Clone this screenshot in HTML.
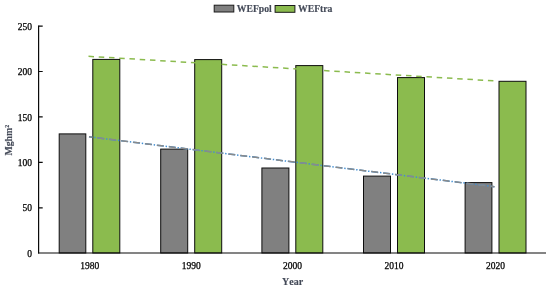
<!DOCTYPE html>
<html>
<head>
<meta charset="utf-8">
<title>WEF chart</title>
<style>
html,body{margin:0;padding:0;background:#fff;}
body{width:550px;height:290px;overflow:hidden;}
svg{display:block;}
text{font-family:"Liberation Serif","Times New Roman",serif;font-kerning:none;}
.t{font-size:9.5px;fill:#000;stroke:#000;stroke-width:0.25px;}
.b{font-size:9.7px;font-weight:bold;fill:#444a58;stroke:#444a58;stroke-width:0.15px;}
</style>
</head>
<body>
<svg width="550" height="290" viewBox="0 0 550 290">
<rect x="0" y="0" width="550" height="290" fill="#ffffff"/>

<!-- legend -->
<rect x="214.2" y="5.2" width="19.6" height="6.8" fill="#808080" stroke="#1a1a1a" stroke-width="1"/>
<text class="b" x="236.8" y="11.9">WEFpol</text>
<rect x="275.1" y="5.5" width="19.8" height="6.8" fill="#8bbb4e" stroke="#1a1a1a" stroke-width="1"/>
<text class="b" x="298" y="11.9">WEFtra</text>

<!-- bars -->
<g stroke="#0d0d0d" stroke-width="1">
<g fill="#808080">
<rect x="59.2" y="133.9" width="26.6" height="119.1"/>
<rect x="160.7" y="149.1" width="27" height="103.9"/>
<rect x="261.9" y="168" width="27" height="85"/>
<rect x="363.5" y="176.1" width="27" height="76.9"/>
<rect x="465.1" y="182.6" width="26.8" height="70.4"/>
</g>
<g fill="#8bbb4e">
<rect x="92.8" y="59.4" width="27" height="193.6"/>
<rect x="194.7" y="59.6" width="27" height="193.4"/>
<rect x="295.8" y="65.6" width="27" height="187.4"/>
<rect x="397.5" y="77.6" width="27" height="175.4"/>
<rect x="499" y="81.3" width="27" height="171.7"/>
</g>
</g>

<!-- green trend line -->
<line x1="88.5" y1="56.3" x2="497" y2="81.05" stroke="#8bbb4e" stroke-width="1.5" stroke-dasharray="5.5 4.76"/>
<!-- blue/grey trend line -->
<line x1="89" y1="136.8" x2="494.5" y2="186.7" stroke="#3f8fd6" stroke-width="1.5" stroke-dasharray="7.2 1.7 1.4 1.7" stroke-dashoffset="3.73"/>
<line x1="89" y1="136.8" x2="494.5" y2="186.7" stroke="#8a8a8a" stroke-width="1.5" stroke-dasharray="6.6 5.4" stroke-dashoffset="3.43"/>

<!-- axes -->
<g stroke="#0a0a0a" stroke-width="1.2" fill="none">
<path d="M38.6 25.4V253.6"/>
<path d="M38 253H546"/>
<path d="M38.6 26.1H42.7M38.6 71.5H42.7M38.6 116.9H42.7M38.6 162.4H42.7M38.6 207.8H42.7"/>
</g>

<!-- y tick labels -->
<g class="t" text-anchor="end">
<text x="32" y="29.7">250</text>
<text x="32" y="75.1">200</text>
<text x="32" y="120.5">150</text>
<text x="32" y="165.9">100</text>
<text x="32" y="211.3">50</text>
<text x="32" y="256.7">0</text>
</g>

<!-- x tick labels -->
<g class="t" text-anchor="middle">
<text x="89.8" y="268.8">1980</text>
<text x="191.2" y="268.8">1990</text>
<text x="292.4" y="268.8">2000</text>
<text x="393.9" y="268.8">2010</text>
<text x="495.5" y="268.8">2020</text>
</g>

<text class="b" style="font-size:10px" text-anchor="middle" x="292.6" y="284.7">Year</text>
<text class="b" style="font-size:9.85px" text-anchor="middle" transform="translate(12.2 140.2) rotate(-90)">Mghm²</text>
</svg>
</body>
</html>
